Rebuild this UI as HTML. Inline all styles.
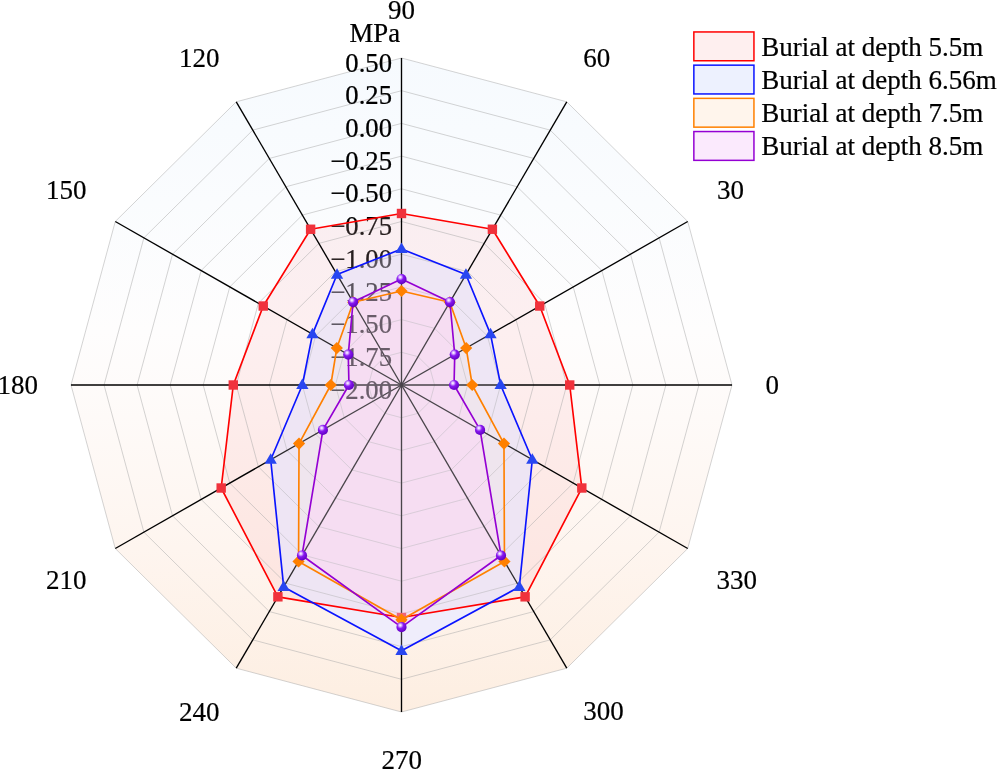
<!DOCTYPE html>
<html lang="en"><head><meta charset="utf-8"><title>Radar chart</title>
<style>html,body{margin:0;padding:0;background:#fff}body{width:997px;height:770px;overflow:hidden}svg{display:block}text{font-family:"Liberation Serif", "DejaVu Serif", serif;stroke-width:0.2px}</style></head><body>
<svg width="997" height="770" viewBox="0 0 997 770">
<defs><linearGradient id="bg" gradientUnits="userSpaceOnUse" x1="0" y1="58" x2="0" y2="712"><stop offset="0" stop-color="#f6fafe"/><stop offset="0.22" stop-color="#fafcfe"/><stop offset="0.42" stop-color="#fefdfd"/><stop offset="0.55" stop-color="#fefaf8"/><stop offset="0.75" stop-color="#fef5ef"/><stop offset="1" stop-color="#fdeee1"/></linearGradient>
<radialGradient id="ball" cx="0.38" cy="0.32" r="0.7"><stop offset="0" stop-color="#ffffff"/><stop offset="0.16" stop-color="#e0c0ff"/><stop offset="0.45" stop-color="#8818f0"/><stop offset="1" stop-color="#6000c0"/></radialGradient>
<pattern id="tk" patternUnits="userSpaceOnUse" x="0" y="0" width="997" height="770"><rect width="997" height="770" fill="#000"/><polygon points="569.72,385.00 539.74,306.03 492.39,229.25 401.50,213.49 310.61,229.25 263.26,306.03 233.28,385.00 221.18,488.00 277.89,596.83 401.50,617.50 525.11,596.83 581.82,488.01" fill="#261e1e"/><polygon points="500.65,385.00 490.51,334.15 465.95,274.56 401.50,248.97 337.05,274.56 312.49,334.15 302.35,385.00 270.70,459.72 283.68,586.91 401.50,650.85 519.32,586.91 532.30,459.72" fill="#5a545e"/><polygon points="454.05,385.00 454.74,354.59 449.92,302.03 401.50,279.05 353.08,302.03 348.26,354.59 348.95,385.00 322.93,429.88 302.02,555.48 401.50,627.11 500.98,555.48 480.07,429.88" fill="#695c69"/></pattern>
<mask id="bonly" maskUnits="userSpaceOnUse" x="0" y="0" width="997" height="770"><polygon points="500.65,385.00 490.51,334.15 465.95,274.56 401.50,248.97 337.05,274.56 312.49,334.15 302.35,385.00 270.70,459.72 283.68,586.91 401.50,650.85 519.32,586.91 532.30,459.72" fill="#fff"/><polygon points="569.72,385.00 539.74,306.03 492.39,229.25 401.50,213.49 310.61,229.25 263.26,306.03 233.28,385.00 221.18,488.00 277.89,596.83 401.50,617.50 525.11,596.83 581.82,488.01" fill="#000"/></mask></defs>
<rect width="997" height="770" fill="#fff"/>
<polygon points="732.00,385.00 687.72,221.50 566.75,101.81 401.50,58.00 236.25,101.81 115.28,221.50 71.00,385.00 115.28,548.50 236.25,668.19 401.50,712.00 566.75,668.19 687.72,548.50" fill="url(#bg)"/>
<polygon points="569.72,385.00 539.74,306.03 492.39,229.25 401.50,213.49 310.61,229.25 263.26,306.03 233.28,385.00 221.18,488.00 277.89,596.83 401.50,617.50 525.11,596.83 581.82,488.01" fill="rgb(245,50,60)" fill-opacity="0.068"/>
<polygon points="500.65,385.00 490.51,334.15 465.95,274.56 401.50,248.97 337.05,274.56 312.49,334.15 302.35,385.00 270.70,459.72 283.68,586.91 401.50,650.85 519.32,586.91 532.30,459.72" fill="rgb(236,230,246)" fill-opacity="0.900"/>
<polygon points="500.65,385.00 490.51,334.15 465.95,274.56 401.50,248.97 337.05,274.56 312.49,334.15 302.35,385.00 270.70,459.72 283.68,586.91 401.50,650.85 519.32,586.91 532.30,459.72" fill="rgb(240,240,253)" mask="url(#bonly)"/>
<polygon points="472.23,385.00 466.19,348.05 449.75,302.31 401.50,290.99 353.25,302.31 336.81,348.05 330.77,385.00 299.03,443.53 298.55,561.43 401.50,619.69 504.45,561.43 503.97,443.53" fill="rgb(241,230,236)" fill-opacity="0.900"/>
<polygon points="454.05,385.00 454.74,354.59 449.92,302.03 401.50,279.05 353.08,302.03 348.26,354.59 348.95,385.00 322.93,429.88 302.02,555.48 401.50,627.11 500.98,555.48 480.07,429.88" fill="rgb(249,219,243)" fill-opacity="0.900"/>
<g fill="none" stroke="#a8a8a8" stroke-width="0.5">
<polygon points="434.55,385.00 430.12,368.65 418.02,356.68 401.50,352.30 384.98,356.68 372.88,368.65 368.45,385.00 372.88,401.35 384.97,413.32 401.50,417.70 418.02,413.32 430.12,401.35"/>
<polygon points="467.60,385.00 458.74,352.30 434.55,328.36 401.50,319.60 368.45,328.36 344.26,352.30 335.40,385.00 344.26,417.70 368.45,441.64 401.50,450.40 434.55,441.64 458.74,417.70"/>
<polygon points="500.65,385.00 487.37,335.95 451.07,300.04 401.50,286.90 351.93,300.04 315.63,335.95 302.35,385.00 315.63,434.05 351.92,469.96 401.50,483.10 451.07,469.96 487.37,434.05"/>
<polygon points="533.70,385.00 515.99,319.60 467.60,271.72 401.50,254.20 335.40,271.72 287.01,319.60 269.30,385.00 287.01,450.40 335.40,498.28 401.50,515.80 467.60,498.28 515.99,450.40"/>
<polygon points="566.75,385.00 544.61,303.25 484.12,243.40 401.50,221.50 318.88,243.40 258.39,303.25 236.25,385.00 258.39,466.75 318.87,526.60 401.50,548.50 484.12,526.60 544.61,466.75"/>
<polygon points="599.80,385.00 573.23,286.90 500.65,215.09 401.50,188.80 302.35,215.09 229.77,286.90 203.20,385.00 229.77,483.10 302.35,554.91 401.50,581.20 500.65,554.91 573.23,483.10"/>
<polygon points="632.85,385.00 601.85,270.55 517.18,186.77 401.50,156.10 285.83,186.77 201.15,270.55 170.15,385.00 201.15,499.45 285.82,583.23 401.50,613.90 517.18,583.23 601.85,499.45"/>
<polygon points="665.90,385.00 630.48,254.20 533.70,158.45 401.50,123.40 269.30,158.45 172.52,254.20 137.10,385.00 172.52,515.80 269.30,611.55 401.50,646.60 533.70,611.55 630.48,515.80"/>
<polygon points="698.95,385.00 659.10,237.85 550.23,130.13 401.50,90.70 252.78,130.13 143.90,237.85 104.05,385.00 143.90,532.15 252.77,639.87 401.50,679.30 550.23,639.87 659.10,532.15"/>
<polygon points="732.00,385.00 687.72,221.50 566.75,101.81 401.50,58.00 236.25,101.81 115.28,221.50 71.00,385.00 115.28,548.50 236.25,668.19 401.50,712.00 566.75,668.19 687.72,548.50"/>
</g>
<g stroke="#000" stroke-width="1.35">
<line x1="401.50" y1="384.9" x2="732.00" y2="384.9" stroke-width="1.5"/>
<line x1="401.50" y1="385.00" x2="687.72" y2="221.50"/>
<line x1="401.50" y1="385.00" x2="566.75" y2="101.81"/>
<line x1="401.50" y1="385.00" x2="401.50" y2="58.00"/>
<line x1="401.50" y1="385.00" x2="236.25" y2="101.81"/>
<line x1="401.50" y1="385.00" x2="115.28" y2="221.50"/>
<line x1="401.50" y1="384.9" x2="71.00" y2="384.9" stroke-width="1.5"/>
<line x1="401.50" y1="385.00" x2="115.28" y2="548.50"/>
<line x1="401.50" y1="385.00" x2="236.25" y2="668.19"/>
<line x1="401.50" y1="385.00" x2="401.50" y2="712.00"/>
<line x1="401.50" y1="385.00" x2="566.75" y2="668.19"/>
<line x1="401.50" y1="385.00" x2="687.72" y2="548.50"/>
</g>
<polygon points="500.65,385.00 490.51,334.15 465.95,274.56 401.50,248.97 337.05,274.56 312.49,334.15 302.35,385.00 270.70,459.72 283.68,586.91 401.50,650.85 519.32,586.91 532.30,459.72" fill="rgb(236,230,246)" fill-opacity="0.180"/>
<polygon points="472.23,385.00 466.19,348.05 449.75,302.31 401.50,290.99 353.25,302.31 336.81,348.05 330.77,385.00 299.03,443.53 298.55,561.43 401.50,619.69 504.45,561.43 503.97,443.53" fill="rgb(241,230,236)" fill-opacity="0.060"/>
<polygon points="454.05,385.00 454.74,354.59 449.92,302.03 401.50,279.05 353.08,302.03 348.26,354.59 348.95,385.00 322.93,429.88 302.02,555.48 401.50,627.11 500.98,555.48 480.07,429.88" fill="rgb(249,219,243)" fill-opacity="0.100"/>
<g font-size="26.7" text-anchor="end" fill="url(#tk)" stroke="url(#tk)">
<text x="400" y="41.5">MPa</text>
<text x="392" y="71.6">0.50</text>
<text x="392" y="104.3">0.25</text>
<text x="392" y="137.0">0.00</text>
<text x="392" y="169.7">−0.25</text>
<text x="392" y="202.4">−0.50</text>
<text x="392" y="235.1">−0.75</text>
<text x="392" y="267.8">−1.00</text>
<text x="392" y="300.5">−1.25</text>
<text x="392" y="333.2">−1.50</text>
<text x="392" y="365.9">−1.75</text>
<text x="392" y="398.6">−2.00</text>
</g>
<polygon points="569.72,385.00 539.74,306.03 492.39,229.25 401.50,213.49 310.61,229.25 263.26,306.03 233.28,385.00 221.18,488.00 277.89,596.83 401.50,617.50 525.11,596.83 581.82,488.01" fill="none" stroke="#ff0000" stroke-width="1.65" stroke-linejoin="round"/>
<g fill="#f0323c">
<rect x="565.02" y="380.30" width="9.4" height="9.4"/>
<rect x="535.04" y="301.33" width="9.4" height="9.4"/>
<rect x="487.69" y="224.55" width="9.4" height="9.4"/>
<rect x="396.80" y="208.79" width="9.4" height="9.4"/>
<rect x="305.91" y="224.55" width="9.4" height="9.4"/>
<rect x="258.56" y="301.33" width="9.4" height="9.4"/>
<rect x="228.58" y="380.30" width="9.4" height="9.4"/>
<rect x="216.48" y="483.31" width="9.4" height="9.4"/>
<rect x="273.19" y="592.13" width="9.4" height="9.4"/>
<rect x="396.80" y="612.80" width="9.4" height="9.4" fill="#f06478"/>
<rect x="520.41" y="592.13" width="9.4" height="9.4"/>
<rect x="577.12" y="483.31" width="9.4" height="9.4"/>
</g>
<polygon points="500.65,385.00 490.51,334.15 465.95,274.56 401.50,248.97 337.05,274.56 312.49,334.15 302.35,385.00 270.70,459.72 283.68,586.91 401.50,650.85 519.32,586.91 532.30,459.72" fill="none" stroke="#0a14ff" stroke-width="1.65" stroke-linejoin="round"/>
<g fill="#2846f0">
<polygon points="500.65,378.60 494.50,389.10 506.80,389.10"/>
<polygon points="490.51,327.75 484.36,338.25 496.66,338.25"/>
<polygon points="465.95,268.16 459.80,278.66 472.10,278.66"/>
<polygon points="401.50,242.57 395.35,253.07 407.65,253.07"/>
<polygon points="337.05,268.16 330.90,278.66 343.20,278.66"/>
<polygon points="312.49,327.75 306.34,338.25 318.64,338.25"/>
<polygon points="302.35,378.60 296.20,389.10 308.50,389.10"/>
<polygon points="270.70,453.32 264.55,463.82 276.85,463.82"/>
<polygon points="283.68,580.51 277.53,591.01 289.83,591.01"/>
<polygon points="401.50,644.45 395.35,654.95 407.65,654.95"/>
<polygon points="519.32,580.51 513.17,591.01 525.47,591.01"/>
<polygon points="532.30,453.32 526.15,463.82 538.45,463.82"/>
</g>
<polygon points="472.23,385.00 466.19,348.05 449.75,302.31 401.50,290.99 353.25,302.31 336.81,348.05 330.77,385.00 299.03,443.53 298.55,561.43 401.50,619.69 504.45,561.43 503.97,443.53" fill="none" stroke="#ff8000" stroke-width="1.65" stroke-linejoin="round"/>
<g fill="#ff8000">
<polygon points="472.23,378.90 478.33,385.00 472.23,391.10 466.13,385.00"/>
<polygon points="466.19,341.95 472.29,348.05 466.19,354.15 460.09,348.05"/>
<polygon points="449.75,296.21 455.85,302.31 449.75,308.41 443.65,302.31"/>
<polygon points="401.50,284.89 407.60,290.99 401.50,297.09 395.40,290.99"/>
<polygon points="353.25,296.21 359.35,302.31 353.25,308.41 347.15,302.31"/>
<polygon points="336.81,341.95 342.91,348.05 336.81,354.15 330.71,348.05"/>
<polygon points="330.77,378.90 336.87,385.00 330.77,391.10 324.67,385.00"/>
<polygon points="299.03,437.43 305.13,443.53 299.03,449.63 292.93,443.53"/>
<polygon points="298.55,555.33 304.65,561.43 298.55,567.53 292.45,561.43"/>
<polygon points="401.50,613.59 407.60,619.69 401.50,625.79 395.40,619.69"/>
<polygon points="504.45,555.33 510.55,561.43 504.45,567.53 498.35,561.43"/>
<polygon points="503.97,437.43 510.07,443.53 503.97,449.63 497.87,443.53"/>
</g>
<polygon points="454.05,385.00 454.74,354.59 449.92,302.03 401.50,279.05 353.08,302.03 348.26,354.59 348.95,385.00 322.93,429.88 302.02,555.48 401.50,627.11 500.98,555.48 480.07,429.88" fill="none" stroke="#9400d3" stroke-width="1.65" stroke-linejoin="round"/>
<g fill="#9400d3">
<circle cx="454.05" cy="385.00" r="5.1" fill="url(#ball)"/>
<circle cx="454.74" cy="354.59" r="5.1" fill="url(#ball)"/>
<circle cx="449.92" cy="302.03" r="5.1" fill="url(#ball)"/>
<circle cx="401.50" cy="279.05" r="5.1" fill="url(#ball)"/>
<circle cx="353.08" cy="302.03" r="5.1" fill="url(#ball)"/>
<circle cx="348.26" cy="354.59" r="5.1" fill="url(#ball)"/>
<circle cx="348.95" cy="385.00" r="5.1" fill="url(#ball)"/>
<circle cx="322.93" cy="429.88" r="5.1" fill="url(#ball)"/>
<circle cx="302.02" cy="555.48" r="5.1" fill="url(#ball)"/>
<circle cx="401.50" cy="627.11" r="5.1" fill="url(#ball)"/>
<circle cx="500.98" cy="555.48" r="5.1" fill="url(#ball)"/>
<circle cx="480.07" cy="429.88" r="5.1" fill="url(#ball)"/>
</g>
<g font-size="27.0" fill="#000" stroke="#000">
<text x="401.5" y="18.7" text-anchor="middle">90</text>
<text x="401.7" y="769.2" text-anchor="middle">270</text>
<text x="583.3" y="66.9" text-anchor="start">60</text>
<text x="583.3" y="720.4" text-anchor="start">300</text>
<text x="717.0" y="198.8" text-anchor="start">30</text>
<text x="716.6" y="589.0" text-anchor="start">330</text>
<text x="765.6" y="393.8" text-anchor="start">0</text>
<text x="219.6" y="66.9" text-anchor="end">120</text>
<text x="219.6" y="720.6" text-anchor="end">240</text>
<text x="86.4" y="198.6" text-anchor="end">150</text>
<text x="86.5" y="589.0" text-anchor="end">210</text>
<text x="38.0" y="393.8" text-anchor="end">180</text>
</g>
<g font-size="27.0" fill="#000" stroke="#000">
<rect x="693.85" y="31.95" width="60.1" height="28.8" fill="#feefef" stroke="#ff0000" stroke-width="1.5"/>
<text x="761.3" y="55.5">Burial at depth 5.5m</text>
<rect x="693.85" y="65.15" width="60.1" height="28.8" fill="#edf1fe" stroke="#0a14ff" stroke-width="1.5"/>
<text x="761.3" y="88.8">Burial at depth 6.56m</text>
<rect x="693.85" y="98.35" width="60.1" height="28.8" fill="#fff5ec" stroke="#ff8000" stroke-width="1.5"/>
<text x="761.3" y="122.0">Burial at depth 7.5m</text>
<rect x="693.85" y="131.55" width="60.1" height="28.8" fill="#fbeafd" stroke="#9400d3" stroke-width="1.5"/>
<text x="761.3" y="155.2">Burial at depth 8.5m</text>
</g>
</svg></body></html>
